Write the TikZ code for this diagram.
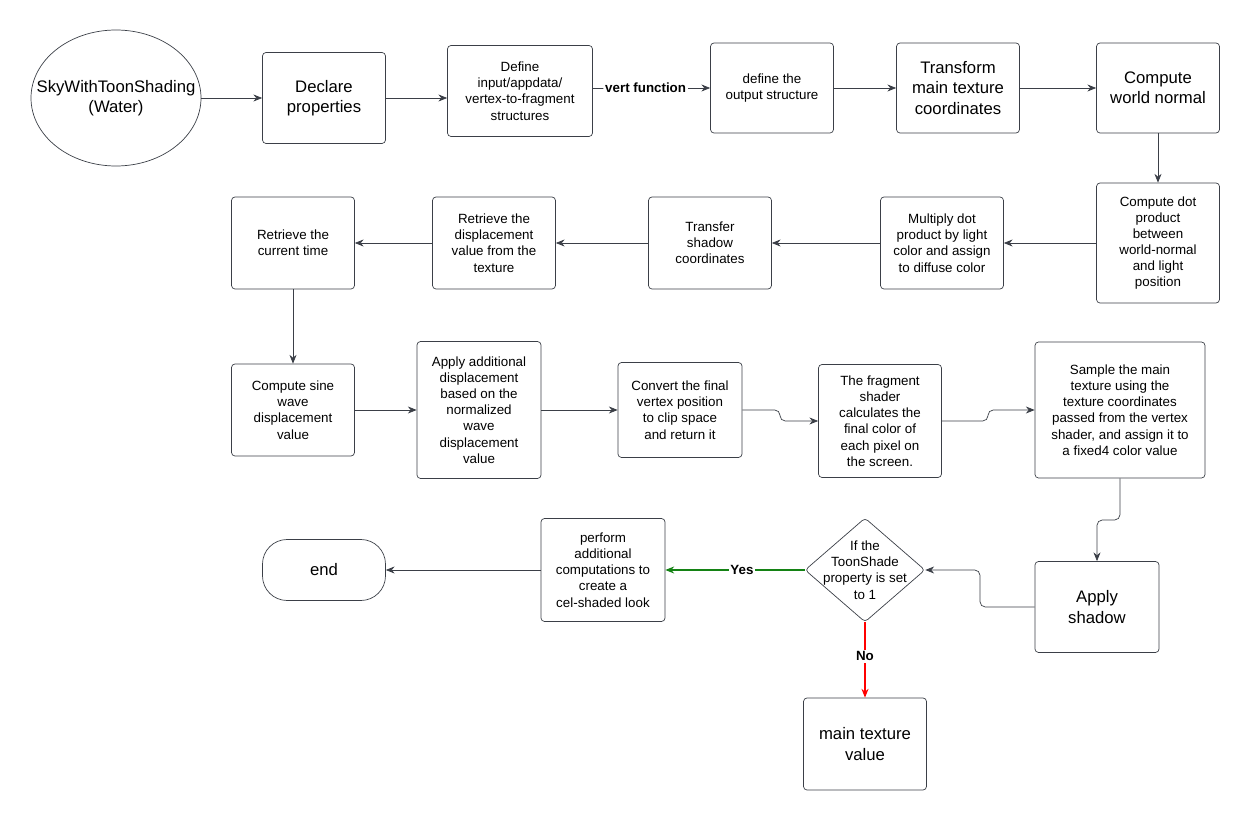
\documentclass[tikz,border=0pt]{standalone}
\usepackage{fontspec}
\setmainfont{Liberation Sans}
\usetikzlibrary{shapes.geometric,arrows.meta}
\definecolor{ln}{HTML}{3B3F47}
\begin{document}
\begin{tikzpicture}[x=0.02cm,y=-0.02cm,
 box/.style={draw=ln,rounded corners=2pt,align=center,font=\fontsize{7.6}{9.2}\selectfont,inner sep=2pt},
 big/.style={font=\fontsize{9.5}{11.5}\selectfont},
 ar/.style={draw=ln,-{Stealth[length=5pt,width=4pt]},rounded corners=3pt}]
\useasboundingbox (0,0) rectangle (1252,820);
\node[draw=ln,ellipse,minimum width=170*0.02cm,minimum height=136*0.02cm,inner sep=0pt] (sky) at (116,98) {};
\node[align=center,big] at (116,98) {SkyWithToonShading\\(Water)};
\node[box,big,minimum width=123*0.02cm,minimum height=91*0.02cm] (decl) at (324,98) {Declare\\properties};
\node[box,minimum width=145*0.02cm,minimum height=91*0.02cm] (def) at (520,91) {Define\\input/appdata/\\vertex-to-fragment\\structures};
\node[box,minimum width=123*0.02cm,minimum height=90*0.02cm] (out) at (772,88) {define the\\output structure};
\node[box,big,minimum width=123*0.02cm,minimum height=90*0.02cm] (tr) at (958,88) {Transform\\main texture\\coordinates};
\node[box,big,minimum width=123*0.02cm,minimum height=90*0.02cm] (wn) at (1158,88) {Compute\\world normal};
\node[box,minimum width=123*0.02cm,minimum height=120*0.02cm] (dot) at (1158,243) {Compute dot\\product\\between\\world-normal\\and light\\position};
\node[box,minimum width=123*0.02cm,minimum height=92*0.02cm] (mul) at (942,243) {Multiply dot\\product by light\\color and assign\\to diffuse color};
\node[box,minimum width=123*0.02cm,minimum height=92*0.02cm] (tsc) at (710,243) {Transfer\\shadow\\coordinates};
\node[box,minimum width=123*0.02cm,minimum height=92*0.02cm] (rdv) at (494,243) {Retrieve the\\displacement\\value from the\\texture};
\node[box,minimum width=123*0.02cm,minimum height=92*0.02cm] (rct) at (293,243) {Retrieve the\\current time};
\node[box,minimum width=123*0.02cm,minimum height=92*0.02cm] (sine) at (293,410) {Compute sine\\wave\\displacement\\value};
\node[box,minimum width=124*0.02cm,minimum height=137*0.02cm] (add) at (479,410) {Apply additional\\displacement\\based on the\\normalized\\wave\\displacement\\value};
\node[box,minimum width=124*0.02cm,minimum height=95*0.02cm] (conv) at (680,410) {Convert the final\\vertex position\\to clip space\\and return it};
\node[box,minimum width=123*0.02cm,minimum height=113*0.02cm] (frag) at (880,421) {The fragment\\shader\\calculates the\\final color of\\each pixel on\\the screen.};
\node[box,minimum width=170*0.02cm,minimum height=136*0.02cm] (samp) at (1120,410) {Sample the main\\texture using the\\texture coordinates\\passed from the vertex\\shader, and assign it to\\a fixed4 color value};
\node[box,big,minimum width=124*0.02cm,minimum height=91*0.02cm] (shad) at (1097,607) {Apply\\shadow};
\node[draw=ln,diamond,rounded corners=2pt,minimum width=120*0.02cm,minimum height=104*0.02cm,inner sep=0pt] (dia) at (865,570) {};
\node[align=center,font=\fontsize{7.6}{9.2}\selectfont] at (865,570) {If the\\ToonShade\\property is set\\to 1};
\node[box,minimum width=124*0.02cm,minimum height=103*0.02cm] (perf) at (603,570) {perform\\additional\\computations to\\create a\\cel-shaded look};
\node[draw=ln,rounded corners=14pt,big,minimum width=123*0.02cm,minimum height=61*0.02cm] (end) at (324,570) {end};
\node[box,big,minimum width=123*0.02cm,minimum height=92*0.02cm] (mtv) at (865,744) {main texture\\value};
\draw[ar] (sky.east) -- (decl.west);
\draw[ar] (decl.east) -- (def.west|-0,98);
\draw[ar] (def.east|-0,88) -- node[pos=0.45,fill=white,inner sep=1pt,font=\bfseries\fontsize{7.6}{9}\selectfont]{vert function} (out.west);
\draw[ar] (out.east) -- (tr.west);
\draw[ar] (tr.east) -- (wn.west);
\draw[ar] (wn.south) -- (dot.north);
\draw[ar] (dot.west) -- (mul.east);
\draw[ar] (mul.west) -- (tsc.east);
\draw[ar] (tsc.west) -- (rdv.east);
\draw[ar] (rdv.west) -- (rct.east);
\draw[ar] (rct.south) -- (sine.north);
\draw[ar] (sine.east) -- (add.west);
\draw[ar] (add.east) -- (conv.west);
\draw[ar] (conv.east) -- (780,410) -- (780,421) -- (frag.west);
\draw[ar] (frag.east|-0,421) -- (988,421) -- (988,410) -- (samp.west);
\draw[ar] (samp.south) -- (1120,520) -- (1097,520) -- (shad.north);
\draw[ar] (shad.west) -- (980,607) -- (980,570) -- (dia.east);
\draw[-{Stealth[length=5pt,width=4pt]},draw={rgb,255:red,20;green,130;blue,20},line width=0.9pt] (dia.west) -- node[pos=0.45,font=\bfseries\fontsize{7.6}{9}\selectfont,fill=white,inner sep=1pt]{Yes} (perf.east);
\draw[-{Stealth[length=5pt,width=4pt]},draw=red,line width=0.9pt] (dia.south) -- node[pos=0.45,font=\bfseries\fontsize{7.6}{9}\selectfont,fill=white,inner sep=1pt]{No} (mtv.north);
\draw[ar] (perf.west) -- (end.east);
\end{tikzpicture}
\end{document}
